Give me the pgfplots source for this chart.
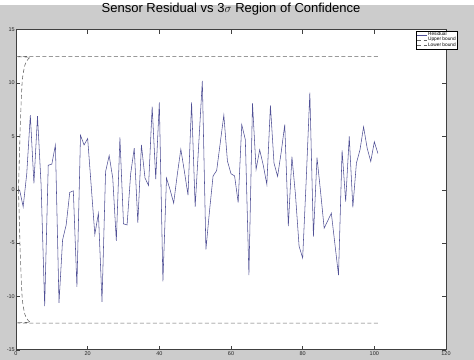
\documentclass[border=0pt]{standalone}
\usepackage{pgfplots}
\pgfplotsset{compat=1.18}
\usepackage{fontspec}
\setmainfont{Liberation Sans}
\definecolor{figbg}{RGB}{204,204,204}
\definecolor{resid}{RGB}{80,80,150}
\definecolor{bnd}{RGB}{100,100,100}
\begin{document}
\begin{tikzpicture}
\fill[figbg] (0pt,0pt) rectangle (474pt,355pt);
\begin{axis}[
  at={(16pt,10pt)}, anchor=south west,
  scale only axis, width=430pt, height=320pt,
  xmin=0, xmax=120, ymin=-15, ymax=15,
  xtick={0,20,...,120}, ytick={-15,-10,...,15},
  tick align=inside, tick pos=both,
  major tick length=4pt,
  axis background/.style={fill=white},
  axis line style={line width=0.6pt, black!75},
  tick style={black!75, line width=0.5pt},
  /pgf/number format/assume math mode=true,
  ticklabel style={font=\fontsize{5.5}{6}\selectfont, text=black!85},
  yticklabel style={inner sep=1pt},
  xticklabel style={inner sep=1.5pt},
  title={Sensor Residual vs 3$\sigma$ Region of Confidence},
  title style={font=\fontsize{13}{15}\selectfont, at={(0.5,1)}, anchor=base, yshift=11pt},
  legend style={at={(0.930,0.997)}, anchor=north west, draw=black, fill=white,
    font=\fontsize{4.8}{4.8}\selectfont, inner sep=0.8pt, row sep=-1pt,
    nodes={inner sep=0.6pt}},
  legend cell align=left,
  legend image code/.code={\draw[#1] (0pt,0pt) -- (10pt,0pt);},
]
\addplot[resid, line width=0.55pt] coordinates {
(1,0.0) (2,-1.6) (3,1.5) (4,7.0) (5,0.6) (6,6.9) (7,0.5) (8,-10.9) (9,2.3) (10,2.4)
(11,4.2) (12,-10.6) (13,-4.7) (14,-3.3) (15,-0.25) (16,-0.1) (17,-9.1) (18,5.1) (19,4.2) (20,4.8)
(21,0.3) (22,-4.2) (23,-2.2) (24,-10.5) (25,1.7) (26,3.2) (27,1.1) (28,-4.8) (29,4.9) (30,-3.2)
(31,-3.3) (32,1.5) (33,3.9) (34,-3.1) (35,4.2) (36,1.1) (37,0.4) (38,7.8) (39,1.0) (40,8.2)
(41,-8.6) (42,1.1) (43,0.0) (44,-1.25) (45,1.4) (46,3.8) (47,1.7) (48,-0.5) (49,8.2) (50,-1.6)
(51,4.3) (52,10.2) (53,-5.6) (54,-2.0) (55,1.3) (56,1.8) (57,4.4) (58,7.0) (59,2.7) (60,1.5)
(61,1.3) (62,-1.2) (63,6.1) (64,4.7) (65,-8.0) (66,8.1) (67,1.9) (68,3.75) (69,2.3) (70,0.5)
(71,7.9) (72,2.5) (73,1.25) (74,3.5) (75,6.1) (76,-3.4) (77,3.1) (78,-0.5) (79,-5.3) (80,-6.4)
(81,1.0) (82,9.1) (83,-4.4) (84,3.0) (85,-0.2) (86,-3.6) (87,-2.9) (88,-2.2) (89,-5.1) (90,-8.0)
(91,3.7) (92,-1.1) (93,5.0) (94,-1.65) (95,2.5) (96,3.75) (97,5.9) (98,3.9) (99,2.65) (100,4.5)
(101,3.4)
};
\addlegendentry{Residual}
\addplot[bnd, line width=0.55pt, dash pattern=on 4pt off 2.5pt, smooth, tension=0.4] coordinates {
(0.7,0) (0.9,2.5) (1.1,5) (1.35,7.5) (1.7,10) (2.0,10.9) (2.5,11.7) (3,12.05) (3.5,12.3) (4,12.42) (5,12.5) (101,12.5)
};
\addlegendentry{Upper bound}
\addplot[bnd, line width=0.55pt, dash pattern=on 4pt off 2.5pt, smooth, tension=0.4] coordinates {
(0.7,0) (0.9,-2.5) (1.1,-5) (1.35,-7.5) (1.7,-10) (2.0,-10.9) (2.5,-11.7) (3,-12.05) (3.5,-12.3) (4,-12.42) (5,-12.5) (101,-12.5)
};
\addlegendentry{Lower bound}
\end{axis}
\end{tikzpicture}
\end{document}
